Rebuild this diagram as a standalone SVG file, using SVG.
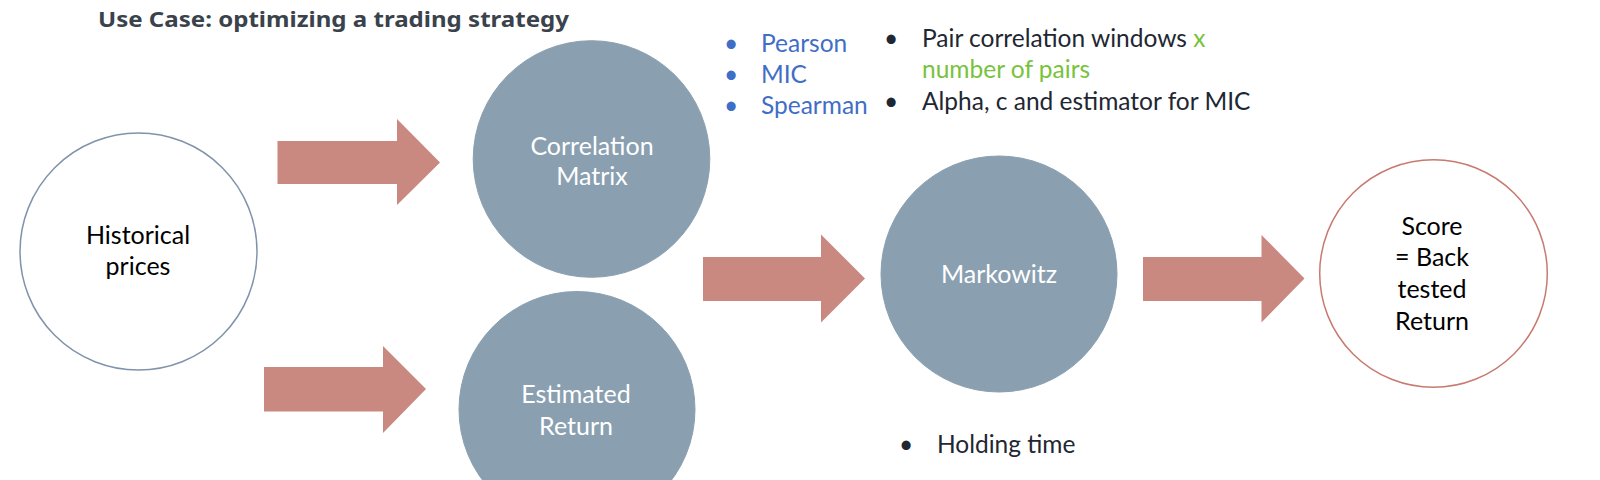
<svg xmlns="http://www.w3.org/2000/svg" width="1600" height="480" viewBox="0 0 1600 480">
<style>
.title{font-family:"Noto Sans","Liberation Sans",sans-serif;font-weight:bold;font-size:21px;fill:#3a424c}
.node{font-family:Lato,"Liberation Sans",sans-serif;font-size:25px;text-anchor:middle}
.wt{fill:#ffffff}
.bk{fill:#000000}
.filled{fill:#8aa0b1;stroke:#8aa0b1;stroke-width:1}
.arrow{fill:#c98880}
.lst{font-family:Lato,"Liberation Sans",sans-serif;font-size:24.5px}
.blue{fill:#3f6ec6}
.dark{fill:#1e2732}
.green{fill:#78c23c}
</style>
<rect width="1600" height="480" fill="#ffffff"/>
<text class="title" x="98" y="27" textLength="471" lengthAdjust="spacingAndGlyphs">Use Case: optimizing a trading strategy</text>
<g id="connectors">
<polygon class="arrow" points="277.5,141 397,141 397,119 440,162.5 397,205 397,184 277.5,184"/>
<polygon class="arrow" points="264,367 383,367 383,346 426,389 383,433 383,411.5 264,411.5"/>
<polygon class="arrow" points="703,257 821,257 821,234.5 865,278.5 821,322.5 821,301 703,301"/>
<polygon class="arrow" points="1143,257 1261.5,257 1261.5,235 1304.5,278.5 1261.5,322.5 1261.5,301 1143,301"/>
</g>
<g id="historical">
<circle cx="138.5" cy="251.5" r="118.5" fill="#ffffff" stroke="#8093ab" stroke-width="1.5"/>
<text class="node bk" x="138" y="244">Historical</text>
<text class="node bk" x="138" y="275">prices</text>
</g>
<g id="correlation">
<circle class="filled" cx="591.5" cy="159" r="118.3"/>
<text class="node wt" x="592" y="155">Correlation</text>
<text class="node wt" x="592" y="185">Matrix</text>
</g>
<g id="estimated">
<circle class="filled" cx="577" cy="409.5" r="118"/>
<text class="node wt" x="576" y="403">Estimated</text>
<text class="node wt" x="576" y="435">Return</text>
</g>
<g id="markowitz">
<circle class="filled" cx="999" cy="274" r="118"/>
<text class="node wt" x="999" y="283">Markowitz</text>
</g>
<g id="score">
<circle cx="1433.5" cy="273.5" r="113.8" fill="#ffffff" stroke="#c87a70" stroke-width="1.5"/>
<text class="node bk" x="1432" y="235">Score</text>
<text class="node bk" x="1432" y="266">= Back</text>
<text class="node bk" x="1432" y="298">tested</text>
<text class="node bk" x="1432" y="330">Return</text>
</g>
<g id="corr-methods">
<text class="lst blue" x="724" y="51.5">•</text><text class="lst blue" x="761" y="51.5">Pearson</text>
<text class="lst blue" x="724" y="82.5">•</text><text class="lst blue" x="761" y="82.5">MIC</text>
<text class="lst blue" x="724" y="114">•</text><text class="lst blue" x="761" y="114">Spearman</text>
</g>
<g id="params">
<text class="lst dark" x="884" y="46.5">•</text><text class="lst dark" x="922" y="46.5">Pair correlation windows <tspan class="green">x</tspan></text>
<text class="lst green" x="922" y="77.5">number of pairs</text>
<text class="lst dark" x="884" y="110">•</text><text class="lst dark" x="922" y="110">Alpha, c and estimator for MIC</text>
</g>
<g id="holding">
<text class="lst dark" x="899" y="453">•</text><text class="lst dark" x="937" y="453">Holding time</text>
</g>
</svg>
